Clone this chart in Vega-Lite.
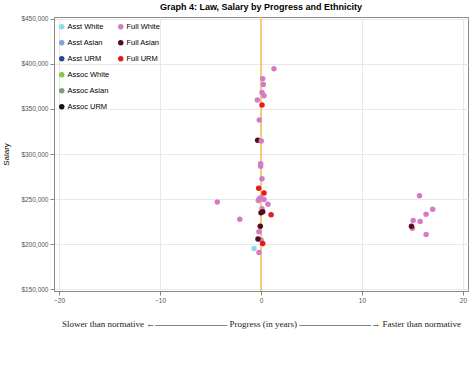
{
  "$schema": "https://vega.github.io/schema/vega-lite/v6.json",
  "width": 474,
  "height": 379,
  "autosize": {"type": "fit", "contains": "padding"},
  "padding": {"left": 2, "top": 3, "right": 6, "bottom": 50},
  "background": "white",
  "title": {"text": "Graph 4: Law, Salary by Progress and Ethnicity", "font": "Liberation Sans", "fontSize": 9, "fontWeight": "bold", "color": "#000", "offset": 4, "anchor": "middle"},
  "config": {
    "view": {"stroke": "#888", "strokeWidth": 1},
    "axis": {"labelFont": "Liberation Sans", "labelFontSize": 6.5, "labelColor": "#555", "gridColor": "#e8e8e8", "gridWidth": 1, "domainColor": "#888", "tickColor": "#888", "tickSize": 4},
    "legend": {"labelFont": "Liberation Sans", "labelFontSize": 7.5, "labelColor": "#000", "labelOffset": 2}
  },
  "datasets": {
    "full": [
      {"progress": 1.28, "salary": 394800, "group": "Full White"},
      {"progress": 0.17, "salary": 383600, "group": "Full White"},
      {"progress": 0.23, "salary": 377200, "group": "Full White"},
      {"progress": 0.1, "salary": 368300, "group": "Full White"},
      {"progress": 0.3, "salary": 364600, "group": "Full White"},
      {"progress": -0.36, "salary": 360100, "group": "Full White"},
      {"progress": 0.1, "salary": 354500, "group": "Full URM"},
      {"progress": -0.17, "salary": 337700, "group": "Full White"},
      {"progress": -0.33, "salary": 315300, "group": "Full Asian"},
      {"progress": 0.03, "salary": 314500, "group": "Full White"},
      {"progress": -0.03, "salary": 289100, "group": "Full White"},
      {"progress": -0.03, "salary": 286500, "group": "Full White"},
      {"progress": 0.1, "salary": 272500, "group": "Full White"},
      {"progress": -0.23, "salary": 262000, "group": "Full URM"},
      {"progress": 0.3, "salary": 256600, "group": "Full URM"},
      {"progress": 0.0, "salary": 251800, "group": "Full White"},
      {"progress": -0.17, "salary": 250300, "group": "Full White"},
      {"progress": 0.3, "salary": 249500, "group": "Full White"},
      {"progress": -0.27, "salary": 248400, "group": "Full White"},
      {"progress": -4.33, "salary": 246600, "group": "Full White"},
      {"progress": 0.69, "salary": 244300, "group": "Full White"},
      {"progress": 0.1, "salary": 239100, "group": "Full White"},
      {"progress": 0.0, "salary": 234700, "group": "Full Asian"},
      {"progress": 0.17, "salary": 235800, "group": "Full Asian"},
      {"progress": 1.0, "salary": 232400, "group": "Full URM"},
      {"progress": -2.1, "salary": 227500, "group": "Full White"},
      {"progress": -0.07, "salary": 219700, "group": "Full Asian"},
      {"progress": -0.2, "salary": 213700, "group": "Full White"},
      {"progress": 0.0, "salary": 204400, "group": "Full White"},
      {"progress": -0.3, "salary": 205500, "group": "Full Asian"},
      {"progress": 0.17, "salary": 200600, "group": "Full URM"},
      {"progress": -0.2, "salary": 190600, "group": "Full White"},
      {"progress": 15.7, "salary": 253700, "group": "Full White"},
      {"progress": 17.0, "salary": 238700, "group": "Full White"},
      {"progress": 16.35, "salary": 233100, "group": "Full White"},
      {"progress": 15.07, "salary": 226100, "group": "Full White"},
      {"progress": 15.76, "salary": 225000, "group": "Full White"},
      {"progress": 15.0, "salary": 217400, "group": "Full White"},
      {"progress": 14.9, "salary": 219700, "group": "Full Asian"},
      {"progress": 16.35, "salary": 210700, "group": "Full White"}
    ],
    "other": [
      {"progress": -0.69, "salary": 195000, "group": "Asst White"}
    ],
    "ref": [{"progress": 0}]
  },
  "layer": [
    {
      "data": {"name": "ref"},
      "mark": {"type": "rule", "color": "#f5c66e", "strokeWidth": 1.8},
      "encoding": {"x": {"field": "progress", "type": "quantitative"}}
    },
    {
      "data": {"name": "other"},
      "mark": {"type": "point", "filled": true, "size": 30, "opacity": 1},
      "encoding": {
        "x": {"field": "progress", "type": "quantitative", "scale": {"domain": [-20.5, 20.5], "nice": false, "zero": false},
          "axis": {"values": [-20, -10, 0, 10, 20], "format": "d", "title": "Slower than normative  \u2190\u2014\u2014\u2014\u2014\u2014\u2014\u2014\u2014  Progress (in years)  \u2014\u2014\u2014\u2014\u2014\u2014\u2014\u2014\u2192  Faster than normative", "titleFont": "Liberation Serif", "titleFontSize": 9, "titleFontWeight": "normal", "titleColor": "#222", "titlePadding": 16}},
        "y": {"field": "salary", "type": "quantitative", "scale": {"domain": [147800, 452200], "nice": false, "zero": false},
          "axis": {"values": [150000, 200000, 250000, 300000, 350000, 400000, 450000], "format": "$,.0f", "title": "Salary", "titleFont": "Liberation Sans", "titleFontSize": 8, "titleFontWeight": "normal", "titleColor": "#000", "titlePadding": 10}},
        "color": {"field": "group", "type": "nominal", "scale": {"domain": ["Asst White", "Asst Asian", "Asst URM", "Assoc White", "Assoc Asian", "Assoc URM"], "range": ["#8fd8e8", "#7aa6d6", "#2b4a8c", "#7cc84e", "#7c9c7c", "#0a1a0a"]},
          "legend": {"title": null, "orient": "none", "legendX": 4, "legendY": 6, "symbolSize": 30, "symbolType": "circle", "rowPadding": 7, "padding": 0}}
      }
    },
    {
      "data": {"name": "full"},
      "mark": {"type": "point", "filled": true, "size": 30, "opacity": 1},
      "encoding": {
        "x": {"field": "progress", "type": "quantitative"},
        "y": {"field": "salary", "type": "quantitative"},
        "color": {"field": "group", "type": "nominal", "scale": {"domain": ["Full White", "Full Asian", "Full URM"], "range": ["#d67ac6", "#5a0a1e", "#e41a1c"]},
          "legend": {"title": null, "orient": "none", "legendX": 63, "legendY": 6, "symbolSize": 30, "symbolType": "circle", "rowPadding": 7, "padding": 0}}
      }
    }
  ],
  "resolve": {"scale": {"color": "independent"}, "legend": {"color": "independent"}}
}
